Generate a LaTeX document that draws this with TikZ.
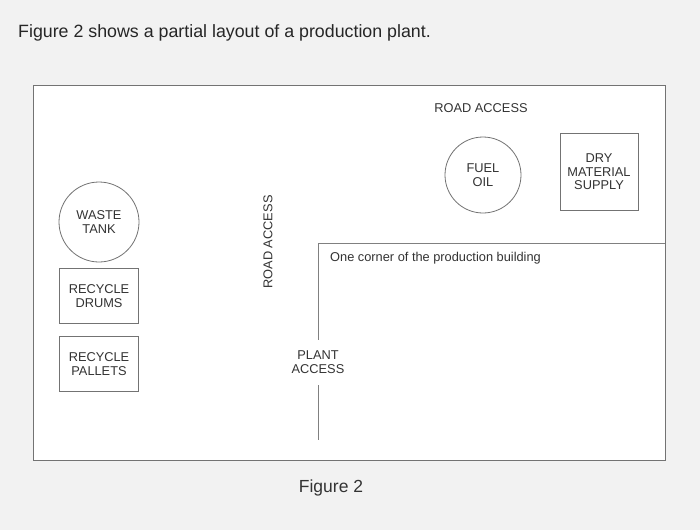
\documentclass[tikz,border=0pt]{standalone}
\usepackage{fontspec}
\setmainfont{Liberation Sans}
\begin{document}
\begin{tikzpicture}[x=1pt,y=-1pt,
  lbl/.style={font=\fontsize{12.8}{13.5}\selectfont,align=center,text=black!80,inner sep=1pt},
  shp/.style={draw=black!55,line width=0.8pt},
  ln/.style={draw=black!50,line width=0.7pt}]
\fill[white!95!black] (0,0) rectangle (700,530);
\useasboundingbox (0,0) rectangle (700,530);
\node[anchor=west,font=\fontsize{17.8}{20}\selectfont,text=black!85,inner sep=0pt] (title) at (18,33) {Figure 2 shows a partial layout of a production plant.};
\draw[shp,fill=white] (33,85) rectangle (665,460);
\node[lbl] (road) at (481,108) {ROAD ACCESS};
\node[shp,circle,minimum size=76pt,lbl] (fuel) at (483,175) {FUEL\\OIL};
\node[shp,rectangle,minimum width=78pt,minimum height=77pt,lbl] (dry) at (599,172) {DRY\\MATERIAL\\SUPPLY};
\node[shp,circle,minimum size=80pt,lbl] (waste) at (99,222) {WASTE\\TANK};
\node[shp,rectangle,minimum width=79pt,minimum height=55pt,lbl] (drums) at (99,296) {RECYCLE\\DRUMS};
\node[shp,rectangle,minimum width=79pt,minimum height=55pt,lbl] (pallets) at (99,364) {RECYCLE\\PALLETS};
\node[lbl,rotate=90] (road2) at (268,242) {ROAD ACCESS};
\coordinate (c) at (318,243);
\coordinate (e) at (665,243);
\coordinate (d) at (318,340);
\draw[ln] (e) -- (c) -- (d);
\node[lbl,anchor=west,inner sep=0pt] (corner) at (330,258) {One corner of the production building};
\node[lbl] (pa) at (318,362) {PLANT\\ACCESS};
\coordinate (p1) at (318,385);
\coordinate (p2) at (318,440);
\draw[ln] (p1) -- (p2);
\node[font=\fontsize{17.5}{19}\selectfont,text=black!80] (fig) at (331,488) {Figure 2};
\end{tikzpicture}
\end{document}
